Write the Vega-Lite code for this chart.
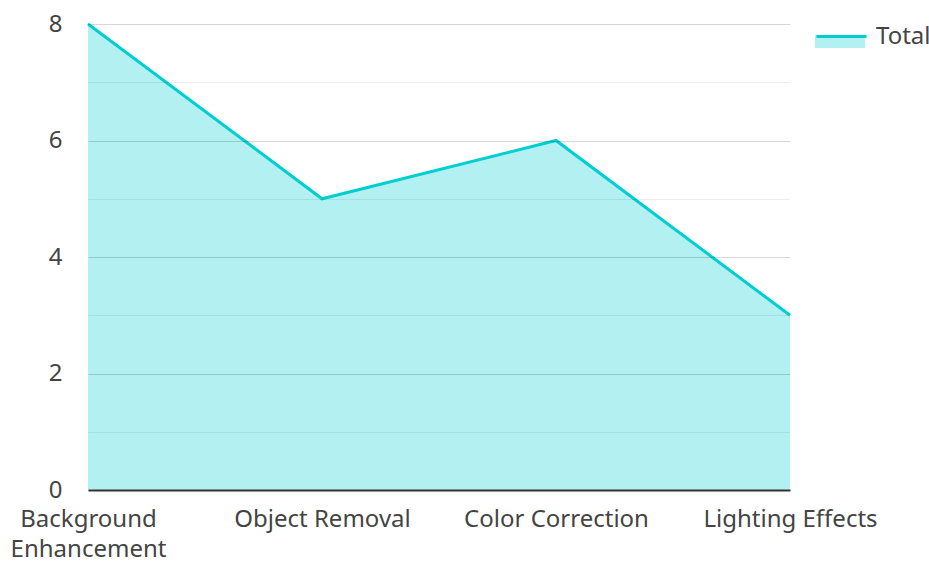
{
  "$schema": "https://vega.github.io/schema/vega-lite/v6.json",
  "width": 702,
  "height": 466,
  "autosize": {"type": "none"},
  "padding": {"left": 88, "top": 24, "right": 139, "bottom": 71},
  "background": "white",
  "config": {
    "view": {"stroke": null},
    "font": "Noto Sans",
    "axis": {"labelFont": "Noto Sans", "labelFontSize": 24, "labelColor": "#444444"}
  },
  "data": {
    "values": [
      {"category": "Background Enhancement", "value": 8, "series": "Total"},
      {"category": "Object Removal", "value": 5, "series": "Total"},
      {"category": "Color Correction", "value": 6, "series": "Total"},
      {"category": "Lighting Effects", "value": 3, "series": "Total"}
    ]
  },
  "encoding": {
    "x": {
      "field": "category",
      "type": "ordinal",
      "sort": null,
      "scale": {"type": "point", "padding": 0},
      "axis": {
        "title": null,
        "labelAngle": 0,
        "ticks": false,
        "tickSize": 0,
        "labelPadding": 17,
        "labelLineHeight": 30,
        "labelLimit": 0,
        "labelOverlap": false,
        "domainColor": "#333333",
        "domainWidth": 2,
        "grid": false,
        "zindex": 1,
        "labelExpr": "datum.label == 'Background Enhancement' ? ['Background', 'Enhancement'] : datum.label"
      }
    },
    "y": {
      "field": "value",
      "type": "quantitative",
      "scale": {"domain": [0, 8], "nice": false},
      "axis": {
        "title": null,
        "values": [0, 1, 2, 3, 4, 5, 6, 7, 8],
        "labelExpr": "datum.value % 2 === 0 ? datum.label : ''",
        "domain": false,
        "ticks": false,
        "tickSize": 0,
        "labelPadding": 26,
        "labelBaseline": "middle",
        "grid": true,
        "gridColor": {"condition": {"test": "datum.value % 2 === 0", "value": "rgba(0,0,0,0.16)"}, "value": "rgba(0,0,0,0.07)"},
        "gridWidth": 1.2,
        "zindex": 1
      }
    }
  },
  "layer": [
    {
      "mark": {"type": "area"},
      "encoding": {
        "fill": {
          "field": "series",
          "type": "nominal",
          "scale": {"range": ["#B2F0F1"]},
          "legend": {
            "orient": "none",
            "legendX": 727,
            "legendY": -14,
            "title": null,
            "symbolType": "M-1,0H1V0.52H-1Z",
            "symbolSize": 2500,
            "symbolStrokeWidth": 0,
            "labelFontSize": 24,
            "labelColor": "#444444",
            "labelFont": "Noto Sans",
            "labelExpr": "''",
            "labelOffset": 10
          }
        }
      }
    },
    {
      "mark": {"type": "line", "strokeWidth": 3},
      "encoding": {
        "stroke": {
          "field": "series",
          "type": "nominal",
          "scale": {"range": ["#00CED1"]},
          "legend": {
            "orient": "none",
            "legendX": 727,
            "legendY": -14,
            "title": null,
            "symbolType": "M-1,0H1",
            "symbolSize": 2500,
            "symbolStrokeWidth": 3,
            "labelFontSize": 24,
            "labelColor": "#444444",
            "labelFont": "Noto Sans",
            "labelLimit": 0,
            "labelOffset": 8
          }
        }
      }
    }
  ]
}
